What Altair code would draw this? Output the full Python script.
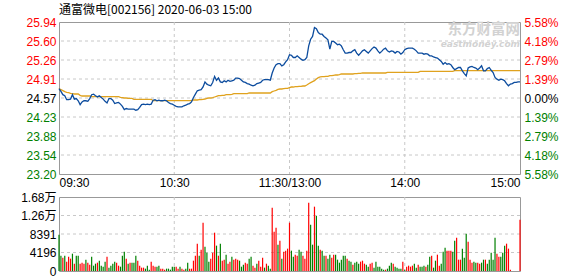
import altair as alt
import pandas as pd

title_text = "通富微电[002156] 2020-06-03 15:00"
pre_close = 24.57
price_ticks = [23.20, 23.5425, 23.885, 24.2275, 24.57, 24.9125, 25.255, 25.5975, 25.94]
price_labels = ["23.20", "23.54", "23.88", "24.23", "24.57", "24.91", "25.26", "25.60", "25.94"]
pct_labels = ["5.58%", "4.18%", "2.79%", "1.39%", "0.00%", "1.39%", "2.79%", "4.18%", "5.58%"]
time_ticks = [0, 60, 120, 180, 240]
time_labels = ["09:30", "10:30", "11:30/13:00", "14:00", "15:00"]
vol_ticks = [0, 4196, 8391, 12587, 16782]
vol_labels = ["0", "4196", "8391", "1.26万", "1.68万"]
watermark = ["东方财富网", "eastmoney.com"]

price = [
    24.74, 24.69, 24.63, 24.61, 24.54, 24.54, 24.55, 24.63, 24.55, 24.56,
    24.52, 24.45, 24.50, 24.52, 24.52, 24.51, 24.56, 24.63, 24.64, 24.61,
    24.59, 24.61, 24.58, 24.55, 24.51, 24.48, 24.56, 24.56, 24.53, 24.47,
    24.48, 24.49, 24.46, 24.42, 24.36, 24.38, 24.37, 24.37, 24.37, 24.37,
    24.35, 24.36, 24.40, 24.45, 24.46, 24.45, 24.46, 24.45, 24.46, 24.53,
    24.54, 24.52, 24.53, 24.52, 24.52, 24.53, 24.52, 24.49, 24.47, 24.46,
    24.44, 24.42, 24.41, 24.41, 24.41, 24.43, 24.44, 24.46, 24.47, 24.50,
    24.58, 24.64, 24.70, 24.71, 24.72, 24.77, 24.86, 24.82, 24.80, 24.79,
    24.85, 24.96, 24.89, 24.93, 24.86, 24.85, 24.88, 24.86, 24.89, 24.87,
    24.88, 24.89, 24.93, 24.93, 24.92, 24.89, 24.86, 24.85, 24.83, 24.82,
    24.80, 24.79, 24.80, 24.83, 24.84, 24.85, 24.89, 24.90, 24.90, 24.90,
    24.89, 25.02, 25.11, 25.17, 25.19, 25.19, 25.15, 25.17, 25.22, 25.26,
    25.35, 25.34, 25.30, 25.30, 25.33, 25.30, 25.27, 25.25, 25.26, 25.30,
    25.51, 25.63, 25.68, 25.84, 25.82, 25.75, 25.72, 25.72, 25.68, 25.65,
    25.62, 25.45, 25.59, 25.59, 25.56, 25.53, 25.54, 25.51, 25.44, 25.38,
    25.38, 25.39, 25.39, 25.42, 25.44, 25.38, 25.34, 25.38, 25.42, 25.44,
    25.41, 25.38, 25.42, 25.46, 25.49, 25.47, 25.42, 25.38, 25.41, 25.45,
    25.47, 25.42, 25.40, 25.42, 25.41, 25.38, 25.41, 25.40, 25.36, 25.39,
    25.44, 25.46, 25.47, 25.47, 25.47, 25.45, 25.42, 25.38, 25.38, 25.38,
    25.36, 25.37, 25.36, 25.33, 25.33, 25.31, 25.30, 25.29, 25.26, 25.23,
    25.18, 25.21, 25.18, 25.19, 25.17, 25.12, 25.08, 25.10, 25.12, 25.12,
    25.06, 25.01, 24.97, 25.11, 25.13, 25.14, 25.12, 25.11, 25.08, 25.11,
    25.15, 25.06, 25.06, 25.10, 25.12, 25.07, 25.03, 24.94, 24.91, 24.89,
    24.91, 24.90, 24.88, 24.83, 24.79, 24.82, 24.83, 24.85, 24.85, 24.86,
    24.86,
]

avg_price = [
    24.744, 24.720, 24.702, 24.684, 24.672, 24.666, 24.654, 24.648, 24.642, 24.642,
    24.642, 24.618, 24.606, 24.606, 24.606, 24.606, 24.606, 24.594, 24.594, 24.594,
    24.594, 24.594, 24.594, 24.594, 24.594, 24.594, 24.594, 24.594, 24.594, 24.594,
    24.594, 24.594, 24.582, 24.576, 24.570, 24.570, 24.564, 24.564, 24.564, 24.546,
    24.546, 24.546, 24.546, 24.546, 24.546, 24.546, 24.546, 24.546, 24.546, 24.522,
    24.522, 24.522, 24.522, 24.522, 24.522, 24.522, 24.522, 24.522, 24.522, 24.522,
    24.522, 24.522, 24.522, 24.522, 24.522, 24.522, 24.522, 24.522, 24.522, 24.522,
    24.534, 24.534, 24.534, 24.540, 24.540, 24.546, 24.552, 24.564, 24.570, 24.570,
    24.576, 24.588, 24.600, 24.612, 24.612, 24.618, 24.618, 24.630, 24.630, 24.630,
    24.636, 24.648, 24.648, 24.648, 24.648, 24.648, 24.648, 24.648, 24.648, 24.660,
    24.660, 24.660, 24.660, 24.660, 24.660, 24.660, 24.660, 24.660, 24.660, 24.660,
    24.660, 24.684, 24.696, 24.708, 24.726, 24.732, 24.732, 24.738, 24.744, 24.744,
    24.756, 24.768, 24.768, 24.774, 24.774, 24.780, 24.780, 24.786, 24.786, 24.804,
    24.828, 24.846, 24.864, 24.882, 24.912, 24.937, 24.949, 24.955, 24.955, 24.961,
    24.961, 24.973, 24.973, 24.979, 24.985, 24.985, 24.991, 25.003, 25.003, 25.003,
    25.003, 25.003, 25.003, 25.003, 25.009, 25.009, 25.015, 25.015, 25.021, 25.021,
    25.021, 25.021, 25.021, 25.021, 25.021, 25.021, 25.021, 25.021, 25.021, 25.021,
    25.021, 25.033, 25.033, 25.033, 25.033, 25.033, 25.033, 25.033, 25.033, 25.033,
    25.033, 25.033, 25.033, 25.033, 25.033, 25.033, 25.033, 25.033, 25.051, 25.051,
    25.051, 25.051, 25.051, 25.051, 25.051, 25.051, 25.051, 25.051, 25.051, 25.051,
    25.051, 25.051, 25.051, 25.051, 25.051, 25.051, 25.063, 25.063, 25.063, 25.063,
    25.063, 25.063, 25.063, 25.063, 25.063, 25.063, 25.063, 25.063, 25.063, 25.063,
    25.063, 25.063, 25.063, 25.063, 25.063, 25.063, 25.063, 25.063, 25.063, 25.063,
    25.063, 25.063, 25.063, 25.063, 25.063, 25.063, 25.063, 25.063, 25.063, 25.063,
    25.063,
]

volume = [
    8200, 3470, 3000, 3470, 2100, 3250, 2800, 3930, 1660, 3470,
    3470, 1660, 1890, 1660, 2570, 1890, 1440, 3250, 1210, 1660,
    1890, 2340, 1210, 980, 2120, 3250, 760, 1210, 1660, 2120,
    1890, 1210, 980, 3470, 4380, 2800, 1660, 1890, 1890, 1890,
    3470, 2340, 1210, 760, 760, 530, 1210, 300, 2120, 1210,
    980, 980, 1210, 530, 530, 300, 530, 530, 300, 980,
    980, 980, 530, 980, 530, 300, 530, 1890, 530, 530,
    2340, 3470, 6200, 3470, 4840, 10960, 5520, 4160, 2120, 2800,
    4160, 8690, 5750, 3470, 6200, 2340, 2570, 3700, 1660, 2120,
    3250, 2570, 2800, 2570, 2340, 980, 1440, 1890, 1660, 2800,
    3250, 1210, 760, 1660, 2340, 980, 3020, 760, 1660, 1210,
    530, 14360, 8920, 9820, 5970, 6880, 2800, 4380, 4610, 5070,
    10960, 4610, 3250, 3700, 3470, 4840, 4380, 3470, 2800, 4610,
    15500, 10500, 5970, 14590, 12550, 5750, 4840, 4610, 3470, 3470,
    2800, 3700, 3020, 3700, 3700, 2570, 1890, 2570, 3470, 3470,
    2800, 2340, 2120, 1440, 1890, 2120, 1660, 2120, 2340, 1660,
    1440, 980, 1660, 1890, 760, 2120, 980, 980, 530, 300,
    300, 530, 1210, 1890, 1660, 980, 760, 530, 530, 2120,
    300, 980, 1210, 980, 1210, 1660, 760, 1440, 980, 980,
    1210, 980, 1440, 3250, 3470, 760, 2340, 3700, 1210, 1660,
    4380, 5290, 4610, 4610, 4610, 4380, 6880, 7560, 2570, 2570,
    5070, 3020, 8460, 6650, 2570, 1890, 2120, 1890, 1890, 1660,
    1890, 2570, 2570, 1660, 2570, 4160, 2570, 7560, 3930, 3250,
    3250, 4160, 5750, 6200, 5070, 300, 0, 0, 0, 0,
    11650,
]

vol_side = list(
    "GGRGRRRGRG" "GRRRGRRGGG" "RGGGGRGGGG" "RRGGGRGRGG"
    "GRRRRGGGRR" "RGGRRRGGGG" "GRRGRRGGRR" "RRRGRRGGGR"
    "RRGRGRRGRR" "GRRRGGGRRG" "GRRGRRRGRG" "GRRRGRGRRR"
    "RGGRRGGRRR" "RGGRGGRGGR" "GGRRGGGGGG" "RGGRGGGRRR"
    "GGRRGGGGGG" "RGGGRGGGGR" "GRRRRGGRGG" "GRGGRGGRRG"
    "GGRRRGGRRR" "GGGRRRGGRR" "GGRGGGGGRR" "GGGRRRRRRR"
    "R"
)

df = pd.DataFrame({
    "t": list(range(len(price))),
    "price": price,
    "avg": avg_price,
    "vol": volume,
    "side": vol_side,
})

def lookup(labels, expr_index):
    return "[" + ",".join("'" + s + "'" for s in labels) + "][" + expr_index + "]"

price_idx = "round((datum.value - 23.2) / 0.3425)"
side_color = ("datum.value > 24.58 ? '#ff0000' : "
              "(datum.value < 24.56 ? '#008000' : '#000000')")
LABEL_FONT = "Liberation Sans, Noto Sans CJK SC"
GRID = "#c8c8c8"

x_scale = alt.Scale(domain=[0, 240], nice=False, zero=False)
y_scale = alt.Scale(domain=[23.20, 25.94], nice=False, zero=False)
v_scale = alt.Scale(domain=[0, 16782], nice=False, zero=False)

x_axis_main = alt.Axis(
    values=time_ticks, labelExpr=lookup(time_labels, "round(datum.value / 60)"),
    labelFlush=True, labelOverlap=False, grid=False,
    ticks=False, domain=False, labelPadding=3, labelFontSize=12,
    labelColor="#000000", labelFont=LABEL_FONT, title=None,
)
y_axis_left = alt.Axis(
    values=price_ticks, labelExpr=lookup(price_labels, price_idx),
    labelColor=alt.expr(side_color), labelOverlap=False, grid=False,
    ticks=False, domain=False, labelPadding=3, labelFontSize=12,
    labelFont=LABEL_FONT, title=None,
)
y_axis_right = alt.Axis(
    orient="right", values=price_ticks, labelExpr=lookup(pct_labels, price_idx),
    labelColor=alt.expr(side_color), labelOverlap=False, grid=False, ticks=False,
    domain=False, labelPadding=4, labelFontSize=12, labelFont=LABEL_FONT, title=None,
)
x_axis_vol = alt.Axis(
    values=time_ticks, labels=False, ticks=False, domain=False, grid=False, title=None,
)
y_axis_vol = alt.Axis(
    values=vol_ticks, labelExpr=lookup(vol_labels, "round(datum.value / 4195.5)"),
    grid=False, labelOverlap=False, ticks=False, domain=False, labelPadding=3,
    labelFontSize=12, labelColor="#000000", labelFont=LABEL_FONT, title=None,
)

base = alt.Chart(df)

# grid lines (inner tick values only; outer ones coincide with the frame)
hgrid_main = alt.Chart(pd.DataFrame({"v": price_ticks[1:-1]})).mark_rule(
    color=GRID, strokeDash=[3, 3], strokeWidth=1
).encode(y=alt.Y("v:Q", scale=y_scale, axis=y_axis_left))
vgrid_main = alt.Chart(pd.DataFrame({"v": time_ticks[1:-1]})).mark_rule(
    color=GRID, strokeDash=[3, 3], strokeWidth=1
).encode(x=alt.X("v:Q", scale=x_scale, axis=x_axis_main))

avg_line = base.mark_line(color="#e0a21e", strokeWidth=1.3).encode(
    x=alt.X("t:Q", scale=x_scale, axis=x_axis_main),
    y=alt.Y("avg:Q", scale=y_scale, axis=y_axis_left),
)
price_line = base.mark_line(color="#0c4c9e", strokeWidth=1.3).encode(
    x=alt.X("t:Q", scale=x_scale, axis=x_axis_main),
    y=alt.Y("price:Q", scale=y_scale, axis=y_axis_left),
)
wm_df = pd.DataFrame({"txt": watermark})
wm1 = alt.Chart(wm_df.iloc[[0]]).mark_text(
    font="Noto Sans CJK SC", fontSize=14.5, fontWeight="bold", color="#d2d2d2",
    align="right", baseline="middle",
).encode(text="txt:N", x=alt.value(461), y=alt.value(8))
wm2 = alt.Chart(wm_df.iloc[[1]]).mark_text(
    font="DejaVu Sans", fontSize=9, fontWeight="bold", fontStyle="italic",
    color="#d2d2d2", align="right", baseline="middle",
).encode(text="txt:N", x=alt.value(461), y=alt.value(22))
title_mark = alt.Chart(pd.DataFrame({"txt": [title_text]})).mark_text(
    font="Noto Sans CJK SC", fontSize=12, color="#000000",
    align="left", baseline="middle",
).encode(text="txt:N", x=alt.value(0), y=alt.value(-12))

right_axis = base.mark_line(opacity=0).encode(
    x=alt.X("t:Q", scale=x_scale, axis=x_axis_main),
    y=alt.Y("price:Q", scale=y_scale, axis=y_axis_right),
)

main = alt.layer(
    alt.layer(hgrid_main, vgrid_main, wm1, wm2, title_mark, avg_line, price_line),
    right_axis,
).resolve_scale(y="independent").properties(width=461, height=152)

hgrid_vol = alt.Chart(pd.DataFrame({"v": vol_ticks[1:-1]})).mark_rule(
    color=GRID, strokeDash=[3, 3], strokeWidth=1
).encode(y=alt.Y("v:Q", scale=v_scale, axis=y_axis_vol))
vgrid_vol = alt.Chart(pd.DataFrame({"v": time_ticks[1:-1]})).mark_rule(
    color=GRID, strokeDash=[3, 3], strokeWidth=1
).encode(x=alt.X("v:Q", scale=x_scale, axis=x_axis_vol))

bars = base.mark_rule(strokeWidth=1.2).encode(
    x=alt.X("t:Q", scale=x_scale, axis=x_axis_vol),
    y=alt.Y("vol:Q", scale=v_scale, axis=y_axis_vol),
    y2=alt.datum(0),
    color=alt.Color("side:N", scale=alt.Scale(domain=["R", "G"], range=["#ff0000", "#008000"]), legend=None),
)

vol_chart = alt.layer(hgrid_vol, vgrid_vol, bars).properties(width=461, height=74)

chart = alt.vconcat(main, vol_chart, spacing=23, bounds="flush").properties(
    padding={"left": 20, "top": 3, "right": 5, "bottom": 0},
    autosize=alt.AutoSizeParams(type="pad"),
    background="white",
).configure_view(stroke="#999999", strokeWidth=1)

chart.save("out.html", embed_options={"renderer": "svg", "actions": False})
